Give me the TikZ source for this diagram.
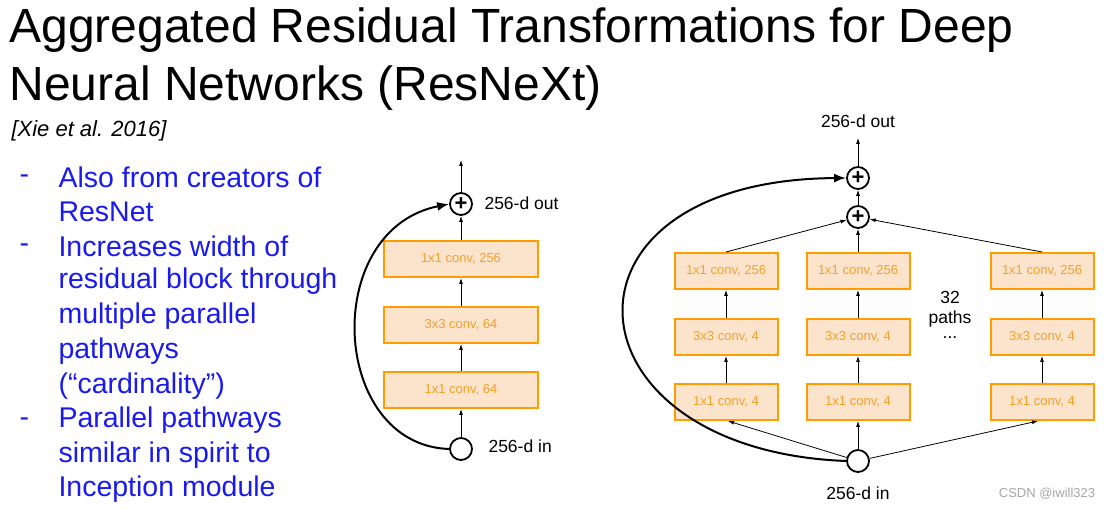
\documentclass[tikz,border=0pt]{standalone}
\usepackage{fontspec}
\setmainfont{Liberation Sans}
\usetikzlibrary{arrows.meta}
\definecolor{bx}{HTML}{FCE4CC}
\definecolor{bd}{HTML}{FF9C00}
\definecolor{bt}{HTML}{F5A02A}
\definecolor{bl}{HTML}{1A1AEE}
\begin{document}
\begin{tikzpicture}[x=1pt,y=-1pt,
  box/.style={draw=bd,fill=bx,line width=2pt,minimum width=103pt,minimum height=36pt,inner sep=0pt,text=bt,font=\fontsize{13}{14}\selectfont},
  bbox/.style={box,minimum width=154pt},
  circ/.style={draw,circle,line width=1.8pt,minimum size=22pt,inner sep=0pt,fill=white},
  plus/.style={circ,font=\fontsize{22}{22}\selectfont\bfseries},
  ar/.style={-{Latex[length=6pt,width=4pt]},line width=0.8pt},
  skip/.style={-{Latex[length=12pt,width=9pt]},line width=2pt},
  lbl/.style={font=\fontsize{17.5}{18}\selectfont},
  bul/.style={anchor=west,text=bl,font=\fontsize{28.5}{30}\selectfont}]
\useasboundingbox (0,0) rectangle (1109,510);
\node[anchor=west,font=\fontsize{48}{50}\selectfont] (t1) at (6,30) {Aggregated Residual Transformations for Deep};
\node[anchor=west,font=\fontsize{48}{50}\selectfont] (t2) at (6,88) {Neural Networks (ResNeXt)};
\node[anchor=west,font=\fontsize{22}{23}\selectfont\itshape] (cite) at (8,131) {[Xie et al. 2016]};
\foreach \y/\d/\t [count=\i] in {177/-/Also from creators of, 212//ResNet, 246/-/Increases width of, 281//residual block through, 316//multiple parallel, 351//pathways, 386//(“cardinality”), 420/-/Parallel pathways, 455//similar in spirit to, 489//Inception module}{
  \node[bul] (b\i) at (55,\y) {\t};
  \node[bul] (d\i) at (16,\y+2) {\d};
}
% left block
\node[box,bbox] (l3) at (461,259) {1x1 conv, 256};
\node[box,bbox] (l2) at (461,325) {3x3 conv, 64};
\node[box,bbox] (l1) at (461,390) {1x1 conv, 64};
\node[plus] (lp) at (461,204) {+};
\node[circ] (lin) at (461,449) {};
\coordinate (ltop) at (461,160);
\node[lbl,anchor=west] (lout) at (481,203) {256-d out};
\node[lbl,anchor=west] (linl) at (485,446) {256-d in};
\draw[ar] (lin) -- (l1);
\draw[ar] (l1) -- (l2);
\draw[ar] (l2) -- (l3);
\draw[ar] (l3) -- (lp);
\draw[ar] (lp) -- (ltop);
\draw[skip] (lin.west) .. controls (330,445) and (320,230) .. (lp.west);
% right block
\foreach \c/\x in {a/726,b/858,c/1042}{
  \node[box] (\c3) at (\x,271) {1x1 conv, 256};
  \node[box] (\c2) at (\x,337) {3x3 conv, 4};
  \node[box] (\c1) at (\x,402) {1x1 conv, 4};
  \draw[ar] (\c1) -- (\c2);
  \draw[ar] (\c2) -- (\c3);
}
\node[plus] (rp1) at (858,178) {+};
\node[plus] (rp2) at (858,217) {+};
\node[circ] (rin) at (858,461) {};
\coordinate (rtop) at (858,138);
\node[lbl] (rout) at (858,121) {256-d out};
\node[lbl] (rinl) at (858,493) {256-d in};
\node[lbl] (p1) at (950,297) {32};
\node[lbl] (p2) at (950,319) {paths};
\node[lbl,inner sep=1pt] (p3) at (950,338) {...};
\draw[ar] (rin) -- (b1);
\draw[ar] (rin) -- ([xshift=2pt]a1.south);
\draw[ar] (rin) -- ([xshift=-4pt]c1.south);
\draw[ar] (a3.north) -- (rp2);
\draw[ar] (b3) -- (rp2);
\draw[ar] (c3.north) -- (rp2);
\draw[ar] (rp2) -- (rp1);
\draw[ar] (rp1) -- (rtop);
\draw[skip] (rin.west) .. controls (560,450) and (540,180) .. (rp1.west);
\node[text=gray!70,font=\fontsize{13}{13}\selectfont] (wm) at (1047,494) {CSDN @iwill323};
\end{tikzpicture}
\end{document}
